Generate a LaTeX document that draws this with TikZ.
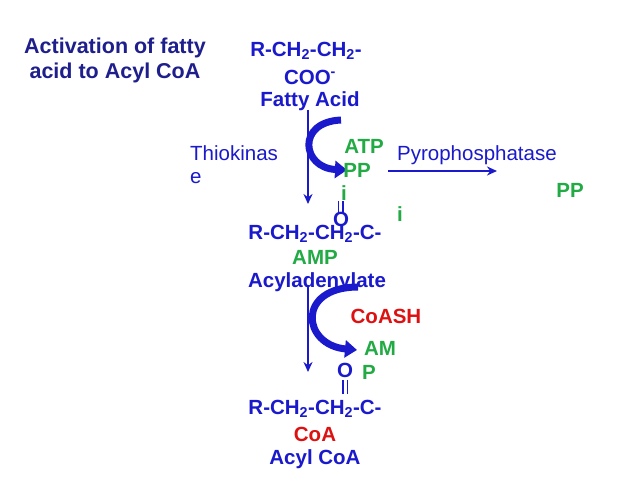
\documentclass[tikz,border=0pt]{standalone}
\usepackage{fontspec}
\setmainfont{Liberation Sans}
\usetikzlibrary{arrows.meta}
\definecolor{cb}{HTML}{1A1ACC}
\definecolor{cg}{HTML}{22AA44}
\definecolor{cr}{HTML}{DD1111}
\definecolor{navy}{HTML}{1E1E8C}
\begin{document}
\begin{tikzpicture}[x=1pt,y=-1pt,
  lab/.style={font=\fontsize{20.5}{22}\selectfont\bfseries,inner sep=0pt},
  plain/.style={font=\fontsize{20.5}{22}\selectfont,inner sep=0pt,text=cb},
  ttl/.style={font=\fontsize{21.5}{23}\selectfont\bfseries,inner sep=0pt,text=navy},
  rx/.style={-{Stealth[length=10pt,width=9pt]},cb,line width=2pt},
  curv/.style={-{Triangle[length=12pt,width=17pt]},cb,line width=7pt}]
\fill[white] (0,0) rectangle (638,478);
\useasboundingbox (0,0) rectangle (638,478);
\node[ttl] (t1) at (115,48) {Activation of fatty};
\node[ttl] (t2) at (115,73) {acid to Acyl CoA};
\node[lab,text=cb] (a1) at (306,51) {R-CH\textsubscript{2}-CH\textsubscript{2}-};
\node[lab,text=cb] (a2) at (310,77) {COO\textsuperscript{-}};
\node[lab,text=cb] (a3) at (310,101) {Fatty Acid};
\coordinate (v1s) at (308,110); \coordinate (v1e) at (308,204);
\draw[rx] (v1s) -- (v1e);
\coordinate (c1s) at (341,120); \coordinate (c1e) at (347,170);
\draw[curv] (c1s) .. controls (296,122) and (302,168) .. (c1e);
\node[lab,text=cg] (atp) at (364,146) {ATP};
\node[lab,text=cg] (pp1) at (357,170) {PP};
\node[lab,text=cg] (i1) at (344,193) {i};
\node[plain,anchor=west] (th) at (190,153) {Thiokinas};
\node[plain,anchor=west] (th2) at (190,178) {e};
\node[plain,anchor=west] (py) at (397,155) {Pyrophosphatase};
\coordinate (p1) at (388,171); \coordinate (p2) at (497,171);
\draw[rx] (p1) -- (p2);
\node[lab,text=cg] (pp2) at (570,190) {PP};
\node[lab,text=cg] (i2) at (400,214) {i};
\draw[cb,line width=1.3pt] (338.5,201) -- (338.5,213) (343,201) -- (343,213);
\node[lab,text=cb] (o1) at (341,219) {O};
\node[lab,text=cb] (b1) at (315,234) {R-CH\textsubscript{2}-CH\textsubscript{2}-C-};
\node[lab,text=cg] (b2) at (315,257) {AMP};
\node[lab,text=cb] (b3) at (317,282) {Acyladenylate};
\coordinate (v2s) at (308,285); \coordinate (v2e) at (308,372);
\draw[rx] (v2s) -- (v2e);
\coordinate (c2s) at (358,287);
\coordinate (c2e) at (357,350);
\draw[curv] (c2s) .. controls (296,287) and (302,345) .. (c2e);
\node[lab,text=cr] (coash) at (386,316) {CoASH};
\node[lab,text=cg] (am) at (380,348) {AM};
\node[lab,text=cg] (p) at (369,372) {P};
\node[lab,text=cb] (o2) at (345,370) {O};
\draw[cb,line width=1.3pt] (343,380) -- (343,394) (347.5,380) -- (347.5,394);
\node[lab,text=cb] (d1) at (315,409) {R-CH\textsubscript{2}-CH\textsubscript{2}-C-};
\node[lab,text=cr] (d2) at (315,434) {CoA};
\node[lab,text=cb] (d3) at (315,459) {Acyl CoA};
\end{tikzpicture}
\end{document}
